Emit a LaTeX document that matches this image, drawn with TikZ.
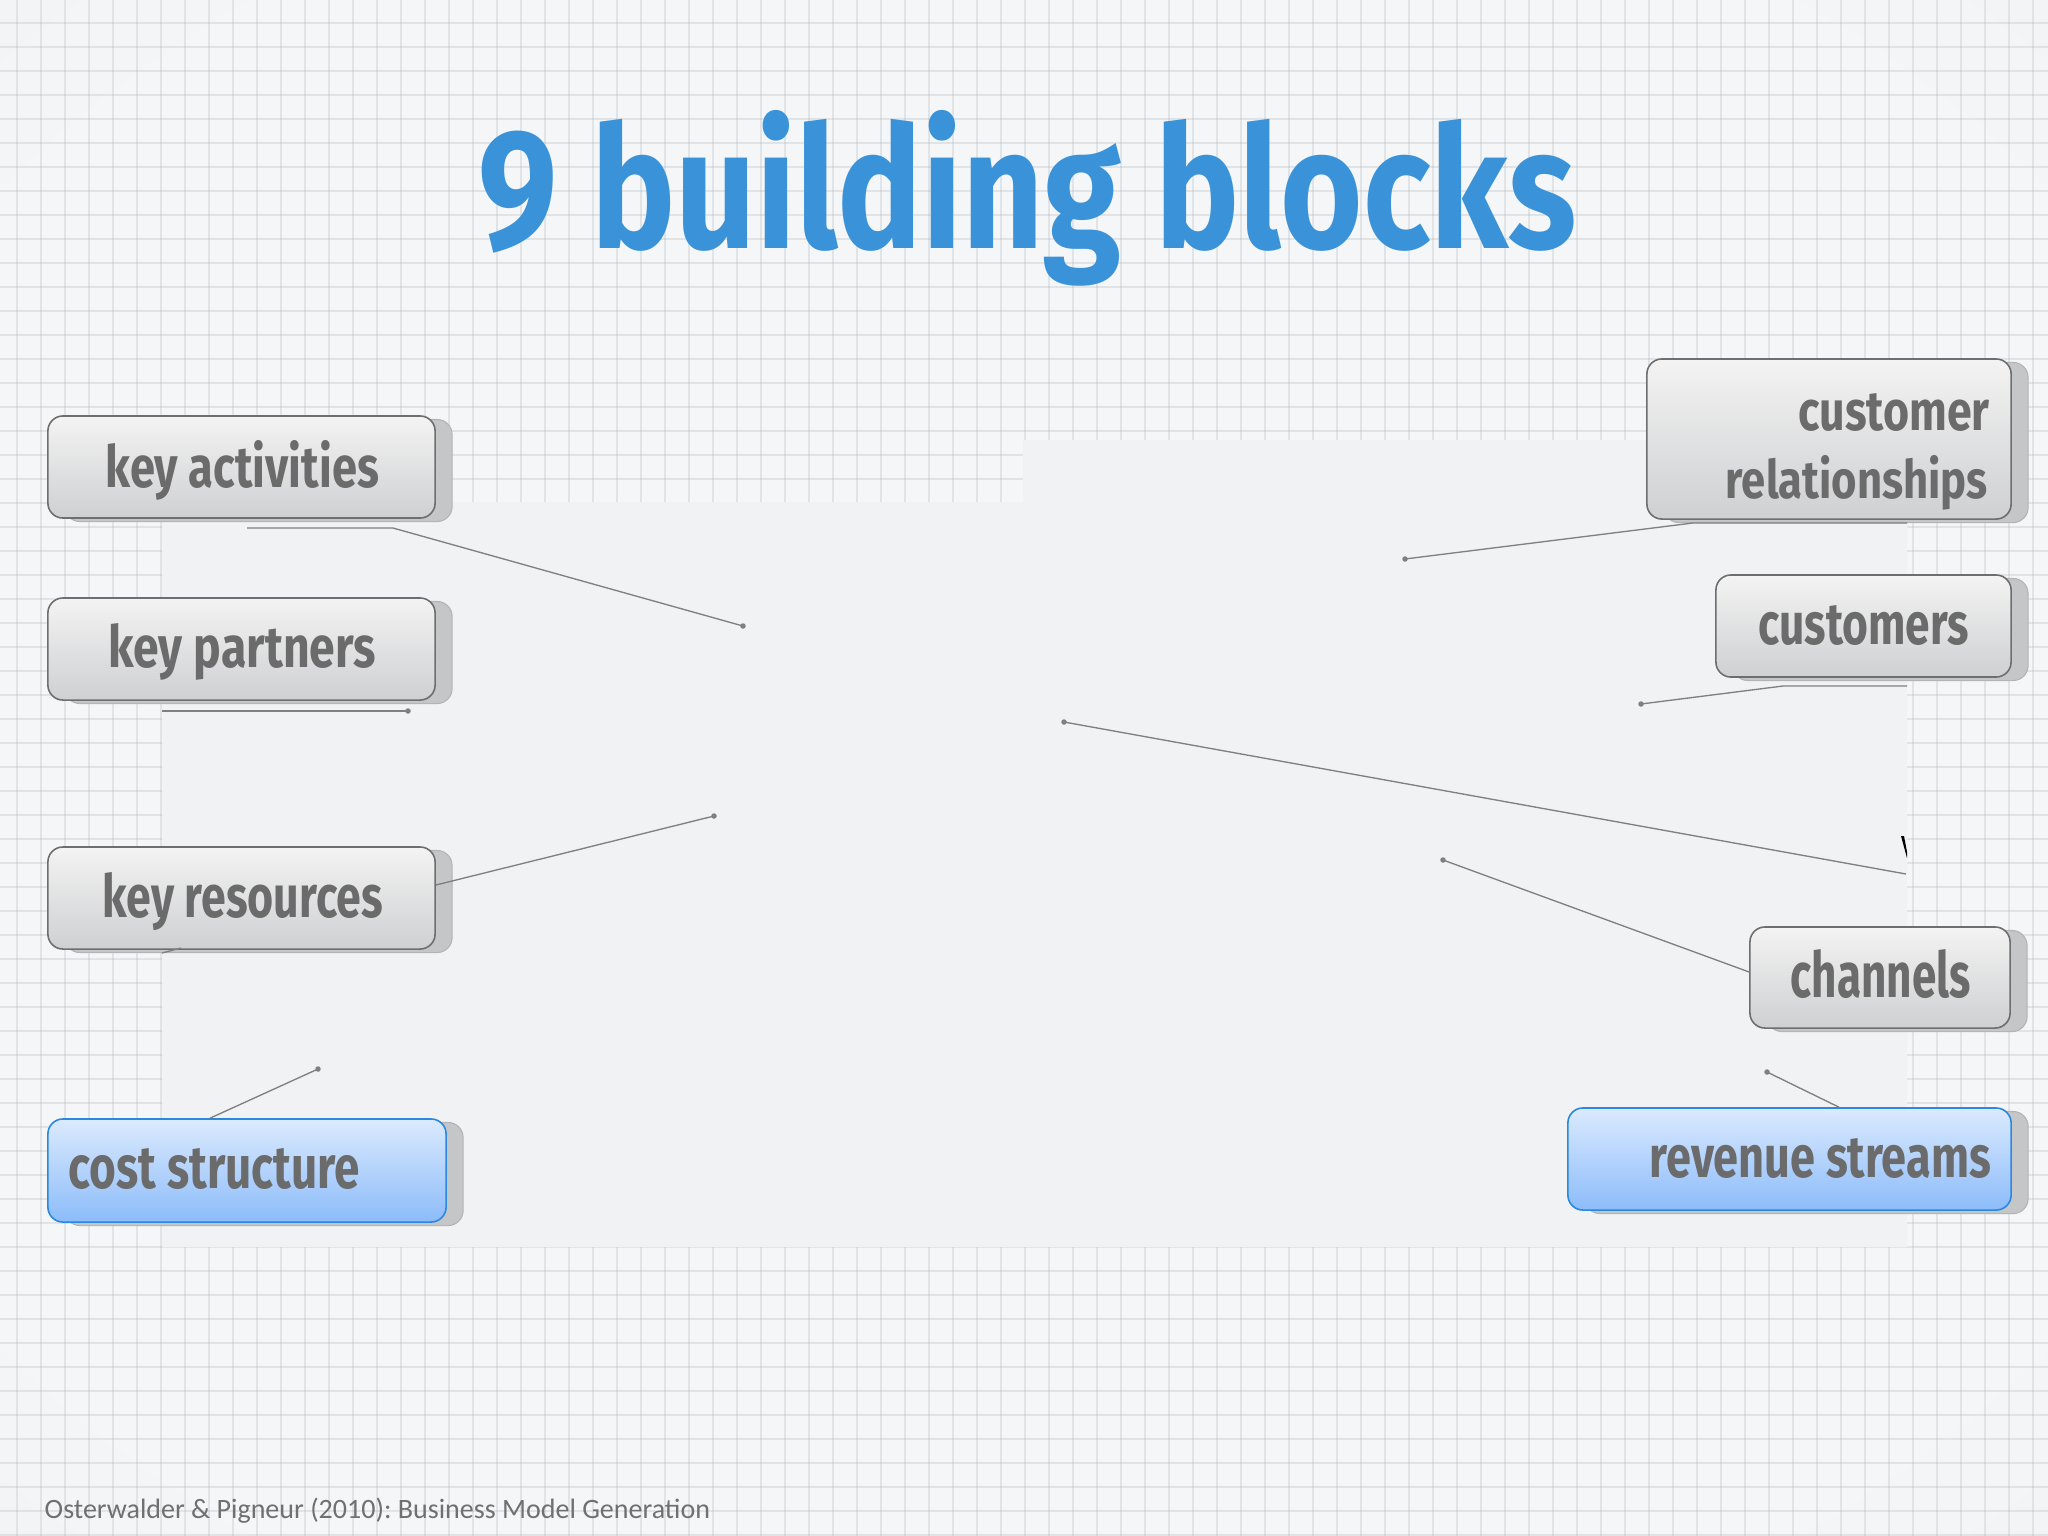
\documentclass[tikz,border=0pt]{standalone}
\usepackage{fontspec}
\usetikzlibrary{calc}
\newfontfamily\handfont{Fira Sans}
\newfontfamily\footfont{Carlito}
\definecolor{bgin}{HTML}{F4F6F7}
\definecolor{bgout}{HTML}{E8EAEB}
\definecolor{gridc}{HTML}{7F8C94}
\definecolor{panelc}{HTML}{F1F2F3}
\definecolor{titleblue}{HTML}{3A93D8}
\definecolor{lblgray}{HTML}{6B6B6B}
\definecolor{boxtop}{HTML}{F3F3F3}
\definecolor{boxbot}{HTML}{CFD0D2}
\definecolor{boxline}{HTML}{6E6E6E}
\definecolor{bluetop}{HTML}{DBEAFE}
\definecolor{bluebot}{HTML}{8CBCFA}
\definecolor{blueline}{HTML}{2A88DE}
\definecolor{shadowc}{HTML}{C5C6C8}
\definecolor{shadowline}{HTML}{B3B4B6}
\definecolor{connc}{HTML}{808080}
\definecolor{footc}{HTML}{707070}
\pgfdeclareradialshading{vign}{\pgfpoint{0bp}{0bp}}{color(0bp)=(bgin); color(30bp)=(bgin); color(62bp)=(bgout); color(75bp)=(bgout)}
\tikzset{
  blockbox/.style={rounded corners=0.15cm, inner sep=0pt, line width=0.45pt, draw=boxline, top color=boxtop, bottom color=boxbot},
  bluebox/.style={blockbox, draw=blueline, top color=bluetop, bottom color=bluebot},
  shadowbox/.style={rounded corners=0.15cm, inner sep=0pt, fill=shadowc, draw=shadowline, line width=0.3pt},
  lbl/.style={inner sep=0pt, anchor=base west, text=lblgray, font=\handfont\bfseries},
  conn/.style={draw=connc, line width=0.38pt},
  dotc/.style={circle, fill=connc, inner sep=0pt, minimum size=0.055cm},
  gridline/.style={draw=gridc, draw opacity=0.16, line width=0.5pt},
}
\newcommand{\blockat}[6]{%
  \node[shadowbox, minimum width=#4cm, minimum height=#5cm] (#1sh) at (#2+17,#3+3.5) {};
  \node[#6, minimum width=#4cm, minimum height=#5cm] (#1) at (#2,#3) {};
}
\frenchspacing
\begin{document}
\begin{tikzpicture}[x=0.01cm, y=-0.01cm]
\useasboundingbox (0,0) rectangle (2048,1536);
% background
\shade[shading=vign] (0,0) rectangle (2048,1536);
\foreach \i in {0,...,85} \draw[gridline] (16.7+24*\i,0) -- (16.7+24*\i,1536);
\foreach \j in {0,...,63} \draw[gridline] (0,23.3+24*\j) -- (2048,23.3+24*\j);
% panel
\fill[panelc] (162,502) -- (1023,502) -- (1023,440) -- (1907,440) -- (1907,1247) -- (162,1247) -- cycle;
% title
\node[inner sep=0pt, anchor=base west, text=titleblue, font=\handfont\bfseries] (title) at (478,248) {\resizebox{10.97cm}{1.38cm}{9 building blocks}};
% footer
\node[inner sep=0pt, anchor=base west, text=footc, font=\footfont] (foot) at (44,1518) {\resizebox{6.65cm}{!}{Osterwalder \& Pigneur (2010): Business Model Generation}};
% boxes (shadows first)
\blockat{ka}{241.5}{467}{3.87}{1.02}{blockbox}
\blockat{kp}{241.5}{649}{3.87}{1.02}{blockbox}
\blockat{kr}{241.5}{898}{3.87}{1.02}{blockbox}
\blockat{cs}{247}{1170.5}{3.98}{1.03}{bluebox}
\blockat{cr}{1829}{439}{3.64}{1.60}{blockbox}
\blockat{cu}{1863.5}{626}{2.95}{1.02}{blockbox}
\blockat{ch}{1880}{977.5}{2.60}{1.01}{blockbox}
\blockat{rs}{1789.5}{1159}{4.43}{1.02}{bluebox}
% connectors
\coordinate (ka-c1) at (247,528);
\coordinate (ka-c2) at (393,528);
\node[dotc] (ka-d) at (743,626) {};
\draw[conn] (ka-c1) -- (ka-c2) -- (ka-d.center);
\coordinate (kp-c1) at (162,711);
\node[dotc] (kp-d) at (408,711) {};
\draw[conn] (kp-c1) -- (kp-d.center);
\coordinate (kr-c1) at ($(kr.east)+(0,-13)$);
\node[dotc] (kr-d) at (714,816) {};
\draw[conn] (kr-c1) -- (kr-d.center);
\coordinate (kr-s1) at (162,953);
\coordinate (kr-s2) at (181,948);
\draw[conn] (kr-s1) -- (kr-s2);
\coordinate (cs-c1) at ($(cs.north)+(-37,0)$);
\node[dotc] (cs-d) at (318,1069) {};
\draw[conn] (cs-c1) -- (cs-d.center);
\node[dotc] (cr-d) at (1405,559) {};
\coordinate (cr-c1) at (1693,523);
\coordinate (cr-c2) at (1907,523);
\draw[conn] (cr-d.center) -- (cr-c1) -- (cr-c2);
\node[dotc] (cu-d) at (1641,704) {};
\coordinate (cu-c1) at (1783,686);
\coordinate (cu-c2) at (1907,686);
\draw[conn] (cu-d.center) -- (cu-c1) -- (cu-c2);
\node[dotc] (vp-d) at (1064,722) {};
\coordinate (vp-c) at (1906,874);
\draw[conn] (vp-d.center) -- (vp-c);
\node[dotc] (ch-d) at (1443,860) {};
\coordinate (ch-c) at ($(ch.west)+(0,-5.5)$);
\draw[conn] (ch-d.center) -- (ch-c);
\node[dotc] (rs-d) at (1767,1072) {};
\coordinate (rs-c) at ($(rs.north)+(49.5,0)$);
\draw[conn] (rs-d.center) -- (rs-c);
% small dark fragment at panel edge
\fill[black] (1901,836) -- (1904,836) -- (1907,852) -- (1907,858) -- cycle;
% labels
\node[lbl] (ka-t) at (105,487) {\resizebox{2.73cm}{0.47cm}{key activities}};
\node[lbl] (kp-t) at (108,667) {\resizebox{2.67cm}{0.44cm}{key partners}};
\node[lbl] (kr-t) at (102,917) {\resizebox{2.80cm}{0.45cm}{key resources}};
\node[lbl] (cs-t) at (68,1188) {\resizebox{2.91cm}{0.40cm}{cost structure}};
\node[lbl] (cr-t1) at (1798,430) {\resizebox{1.91cm}{0.37cm}{customer}};
\node[lbl] (cr-t2) at (1725,498) {\resizebox{2.62cm}{0.43cm}{relationships}};
\node[lbl] (cu-t) at (1758,644) {\resizebox{2.10cm}{0.39cm}{customers}};
\node[lbl] (ch-t) at (1790,997) {\resizebox{1.80cm}{0.48cm}{channels}};
\node[lbl] (rs-t) at (1649,1177) {\resizebox{3.41cm}{0.39cm}{revenue streams}};
\end{tikzpicture}
\end{document}
